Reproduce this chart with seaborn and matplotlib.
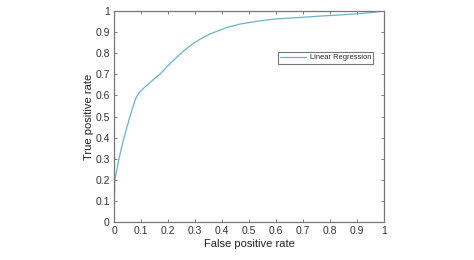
import matplotlib
matplotlib.use("Agg")
import matplotlib.pyplot as plt
import seaborn as sns
import pandas as pd

fpr = [0.0, 0.003, 0.02, 0.035, 0.059, 0.075, 0.084, 0.095, 0.109, 0.14, 0.17, 0.2, 0.232, 0.265, 0.294, 0.325, 0.356, 0.39, 0.417, 0.467, 0.53, 0.59, 0.65, 0.71, 0.77, 0.837, 0.9, 0.96, 1.0]
tpr = [0.0, 0.20, 0.31, 0.39, 0.50, 0.565, 0.595, 0.615, 0.633, 0.668, 0.70, 0.74, 0.78, 0.817, 0.846, 0.87, 0.89, 0.907, 0.92, 0.937, 0.95, 0.96, 0.965, 0.97, 0.975, 0.98, 0.985, 0.992, 1.0]
series_name = "Linear Regression"
tick_vals = [0, 0.1, 0.2, 0.3, 0.4, 0.5, 0.6, 0.7, 0.8, 0.9, 1]
tick_labels = ["0", "0.1", "0.2", "0.3", "0.4", "0.5", "0.6", "0.7", "0.8", "0.9", "1"]

sns.set_theme(style="white")
plt.rcParams['font.family'] = ['Liberation Sans', 'DejaVu Sans']

df = pd.DataFrame({"fpr": fpr, "tpr": tpr, "model": series_name})

fig = plt.figure(figsize=(4.74, 2.60), dpi=100)
ax = fig.add_axes([114/474, 1 - 222.3/260, 270/474, 211.6/260])
sns.lineplot(data=df, x="fpr", y="tpr", hue="model", palette=["#6ab3cb"],
             linewidth=0.9, ax=ax, sort=False, estimator=None)
ax.set_xlim(0, 1)
ax.set_ylim(0, 1)
ax.set_xticks(tick_vals)
ax.set_xticklabels(tick_labels)
ax.set_yticks(tick_vals)
ax.set_yticklabels(tick_labels)
ax.tick_params(direction="in", length=2.5, width=0.6, colors="#666666",
               labelcolor="#333333", labelsize=7.5, top=True, right=True,
               bottom=True, left=True, pad=3)
for s in ax.spines.values():
    s.set_color("#777777")
    s.set_linewidth(0.9)
    s.set_visible(True)
ax.set_xlabel("False positive rate", fontsize=8, color="#222222", labelpad=2)
ax.set_ylabel("True positive rate", fontsize=8, color="#222222", labelpad=1)
leg = ax.legend(loc="upper right", bbox_to_anchor=(0.96, 0.805), fontsize=5.4,
                frameon=True, fancybox=False, handlelength=3.4, borderpad=0.3,
                handletextpad=0.5, borderaxespad=0)
leg.get_frame().set_edgecolor("#555555")
leg.get_frame().set_linewidth(0.8)
fig.savefig("out.png", dpi=100)
